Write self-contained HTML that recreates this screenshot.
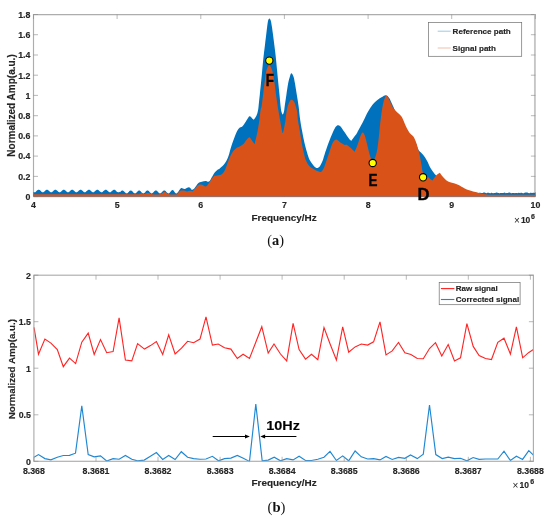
<!DOCTYPE html><html><head><meta charset="utf-8"><title>Figure</title><style>html,body{margin:0;padding:0;background:#fff}svg{display:block}text{font-family:"Liberation Sans",sans-serif;font-weight:bold;fill:#262626;stroke:#262626;stroke-width:0.15}.s{font-family:"Liberation Serif",serif;font-weight:normal;fill:#111;stroke:none}.k{fill:#000;stroke:#000;stroke-width:0.35}.k2{fill:#000}</style></head><body>
<svg width="550" height="519" viewBox="0 0 550 519">
<rect width="550" height="519" fill="#fff"/>
<path d="M33.5,196.6V14.6H535.4" fill="none" stroke="#adadad" stroke-width="1.15"/><path d="M33.5,196.6H535.4" fill="none" stroke="#adadad" stroke-width="1.15"/><path d="M534.9,14.0V196.6" fill="none" stroke="#c6c6c6" stroke-width="1.9"/>
<path d="M33.5,196.6v-4.5M33.5,14.5v4.5M117.1,196.6v-4.5M117.1,14.5v4.5M200.8,196.6v-4.5M200.8,14.5v4.5M284.4,196.6v-4.5M284.4,14.5v4.5M368.1,196.6v-4.5M368.1,14.5v4.5M451.7,196.6v-4.5M451.7,14.5v4.5M535.4,196.6v-4.5M535.4,14.5v4.5M33.5,196.6h4.5M535.4,196.6h-4.5M33.5,176.4h4.5M535.4,176.4h-4.5M33.5,156.1h4.5M535.4,156.1h-4.5M33.5,135.9h4.5M535.4,135.9h-4.5M33.5,115.7h4.5M535.4,115.7h-4.5M33.5,95.4h4.5M535.4,95.4h-4.5M33.5,75.2h4.5M535.4,75.2h-4.5M33.5,55.0h4.5M535.4,55.0h-4.5M33.5,34.7h4.5M535.4,34.7h-4.5M33.5,14.5h4.5M535.4,14.5h-4.5" stroke="#8a8a8a" stroke-width="0.6" fill="none"/>
<path d="M33.50,196.60C33.50,195.75 33.50,192.35 33.50,191.50C33.50,191.57 33.38,191.81 33.50,191.94C33.62,192.07 33.97,192.21 34.20,192.26C34.43,192.31 34.67,192.31 34.90,192.25C35.13,192.18 35.37,192.05 35.60,191.89C35.83,191.73 36.07,191.51 36.30,191.30C36.53,191.09 36.77,190.83 37.00,190.62C37.23,190.41 37.47,190.20 37.70,190.05C37.93,189.90 38.17,189.78 38.40,189.73C38.63,189.68 38.87,189.69 39.10,189.76C39.33,189.82 39.57,189.96 39.80,190.12C40.03,190.28 40.27,190.50 40.50,190.72C40.73,190.93 40.97,191.18 41.20,191.39C41.43,191.60 41.67,191.81 41.90,191.96C42.13,192.11 42.37,192.22 42.60,192.27C42.83,192.32 43.07,192.30 43.30,192.24C43.53,192.17 43.77,192.03 44.00,191.87C44.23,191.71 44.47,191.48 44.70,191.27C44.93,191.06 45.17,190.80 45.40,190.59C45.63,190.39 45.87,190.17 46.10,190.03C46.33,189.89 46.57,189.77 46.80,189.73C47.03,189.68 47.27,189.70 47.50,189.77C47.73,189.84 47.97,189.98 48.20,190.14C48.43,190.30 48.67,190.53 48.90,190.75C49.13,190.96 49.37,191.21 49.60,191.42C49.83,191.63 50.07,191.84 50.30,191.98C50.53,192.12 50.77,192.23 51.00,192.28C51.23,192.32 51.47,192.30 51.70,192.23C51.93,192.16 52.17,192.01 52.40,191.85C52.63,191.68 52.87,191.45 53.10,191.24C53.33,191.03 53.57,190.77 53.80,190.57C54.03,190.36 54.27,190.15 54.50,190.01C54.73,189.87 54.97,189.76 55.20,189.72C55.43,189.68 55.67,189.70 55.90,189.78C56.13,189.85 56.37,190.00 56.60,190.16C56.83,190.33 57.07,190.56 57.30,190.77C57.53,190.99 57.77,191.24 58.00,191.45C58.23,191.65 58.47,191.86 58.70,192.00C58.93,192.14 59.17,192.24 59.40,192.28C59.63,192.32 59.87,192.29 60.10,192.22C60.33,192.14 60.57,191.99 60.80,191.83C61.03,191.66 61.27,191.43 61.50,191.21C61.73,191.00 61.97,190.74 62.20,190.54C62.43,190.34 62.67,190.13 62.90,189.99C63.13,189.85 63.37,189.75 63.60,189.72C63.83,189.68 64.07,189.71 64.30,189.79C64.53,189.87 64.77,190.02 65.00,190.19C65.23,190.35 65.47,190.59 65.70,190.80C65.93,191.02 66.17,191.27 66.40,191.47C66.63,191.68 66.87,191.88 67.10,192.02C67.33,192.15 67.57,192.25 67.80,192.29C68.03,192.32 68.27,192.29 68.50,192.21C68.73,192.13 68.97,191.97 69.20,191.80C69.43,191.63 69.67,191.40 69.90,191.18C70.13,190.97 70.37,190.71 70.60,190.51C70.83,190.31 71.07,190.11 71.30,189.97C71.53,189.84 71.77,189.74 72.00,189.71C72.23,189.68 72.47,189.72 72.70,189.80C72.93,189.88 73.17,190.04 73.40,190.21C73.63,190.38 73.87,190.62 74.10,190.83C74.33,191.05 74.57,191.30 74.80,191.50C75.03,191.70 75.27,191.90 75.50,192.04C75.73,192.17 75.97,192.26 76.20,192.29C76.43,192.32 76.67,192.28 76.90,192.20C77.13,192.11 77.37,191.95 77.60,191.78C77.83,191.61 78.07,191.37 78.30,191.15C78.53,190.94 78.77,190.68 79.00,190.49C79.23,190.29 79.47,190.09 79.70,189.96C79.93,189.83 80.17,189.73 80.40,189.71C80.63,189.68 80.87,189.72 81.10,189.81C81.33,189.90 81.57,190.06 81.80,190.23C82.03,190.41 82.27,190.65 82.50,190.86C82.73,191.08 82.97,191.33 83.20,191.53C83.43,191.73 83.67,191.93 83.90,192.05C84.13,192.18 84.37,192.27 84.60,192.29C84.83,192.32 85.07,192.27 85.30,192.18C85.53,192.10 85.77,191.93 86.00,191.76C86.23,191.58 86.47,191.34 86.70,191.12C86.93,190.91 87.17,190.66 87.40,190.46C87.63,190.26 87.87,190.06 88.10,189.94C88.33,189.81 88.57,189.72 88.80,189.71C89.03,189.69 89.27,189.73 89.50,189.82C89.73,189.91 89.97,190.08 90.20,190.26C90.43,190.43 90.67,190.67 90.90,190.89C91.13,191.11 91.37,191.36 91.60,191.55C91.83,191.75 92.07,191.95 92.30,192.07C92.53,192.19 92.77,192.28 93.00,192.30C93.23,192.31 93.47,192.27 93.70,192.17C93.93,192.08 94.17,191.91 94.40,191.73C94.63,191.55 94.87,191.31 95.10,191.10C95.33,190.88 95.57,190.63 95.80,190.43C96.03,190.24 96.27,190.04 96.50,189.92C96.73,189.80 96.97,189.72 97.20,189.70C97.43,189.69 97.67,189.74 97.90,189.83C98.13,189.93 98.37,190.10 98.60,190.28C98.83,190.46 99.07,190.70 99.30,190.92C99.53,191.14 99.77,191.39 100.00,191.58C100.23,191.78 100.47,191.97 100.70,192.09C100.93,192.21 101.17,192.29 101.40,192.30C101.63,192.31 101.87,192.26 102.10,192.16C102.33,192.06 102.57,191.89 102.80,191.71C103.03,191.53 103.27,191.28 103.50,191.07C103.73,190.85 103.97,190.60 104.20,190.41C104.43,190.21 104.67,190.02 104.90,189.91C105.13,189.79 105.37,189.71 105.60,189.70C105.83,189.69 106.07,189.75 106.30,189.85C106.53,189.95 106.77,190.12 107.00,190.30C107.23,190.49 107.47,190.73 107.70,190.95C107.93,191.17 108.17,191.42 108.40,191.61C108.63,191.80 108.87,191.99 109.10,192.10C109.33,192.22 109.57,192.29 109.80,192.30C110.03,192.31 110.27,192.25 110.50,192.15C110.73,192.04 110.97,191.87 111.20,191.68C111.43,191.50 111.67,191.25 111.90,191.04C112.13,190.82 112.37,190.57 112.60,190.38C112.83,190.19 113.07,190.00 113.30,189.89C113.53,189.78 113.77,189.71 114.00,189.70C114.23,189.70 114.47,189.76 114.70,189.86C114.93,189.97 115.17,190.14 115.40,190.33C115.63,190.52 115.87,190.76 116.10,190.98C116.33,191.20 116.57,191.44 116.80,191.63C117.03,191.82 117.27,192.01 117.50,192.12C117.73,192.23 117.97,192.30 118.20,192.30C118.43,192.30 118.67,192.24 118.90,192.13C119.13,192.02 119.42,191.64 119.60,191.66C119.78,191.68 119.82,192.28 120.00,192.24C120.18,192.21 120.47,191.70 120.70,191.46C120.93,191.22 121.17,190.97 121.40,190.80C121.63,190.63 121.87,190.49 122.10,190.44C122.33,190.38 122.57,190.39 122.80,190.47C123.03,190.54 123.27,190.70 123.50,190.88C123.73,191.07 123.97,191.33 124.20,191.57C124.43,191.82 124.67,192.11 124.90,192.35C125.13,192.59 125.37,192.84 125.60,193.01C125.83,193.18 126.07,193.31 126.30,193.37C126.53,193.42 126.77,193.40 127.00,193.33C127.23,193.25 127.47,193.09 127.70,192.90C127.93,192.72 128.17,192.46 128.40,192.21C128.63,191.96 128.87,191.67 129.10,191.43C129.33,191.19 129.57,190.95 129.80,190.78C130.03,190.61 130.27,190.48 130.50,190.43C130.73,190.38 130.97,190.40 131.20,190.48C131.43,190.56 131.67,190.72 131.90,190.91C132.13,191.10 132.37,191.36 132.60,191.61C132.83,191.85 133.07,192.15 133.30,192.38C133.53,192.62 133.77,192.87 134.00,193.03C134.23,193.20 134.47,193.32 134.70,193.37C134.93,193.42 135.17,193.40 135.40,193.32C135.63,193.23 135.87,193.07 136.10,192.88C136.33,192.69 136.57,192.42 136.80,192.18C137.03,191.93 137.27,191.64 137.50,191.40C137.73,191.16 137.97,190.92 138.20,190.76C138.43,190.60 138.67,190.47 138.90,190.42C139.13,190.38 139.37,190.40 139.60,190.49C139.83,190.57 140.07,190.74 140.30,190.93C140.53,191.13 140.77,191.39 141.00,191.64C141.23,191.89 141.47,192.18 141.70,192.42C141.93,192.65 142.17,192.89 142.40,193.05C142.63,193.21 142.87,193.34 143.10,193.38C143.33,193.42 143.57,193.39 143.80,193.31C144.03,193.22 144.27,193.05 144.50,192.85C144.73,192.66 144.97,192.39 145.20,192.14C145.43,191.90 145.67,191.60 145.90,191.37C146.13,191.13 146.37,190.89 146.60,190.74C146.83,190.58 147.07,190.46 147.30,190.42C147.53,190.38 147.77,190.41 148.00,190.50C148.23,190.59 148.47,190.76 148.70,190.96C148.93,191.16 149.17,191.42 149.40,191.67C149.63,191.92 149.87,192.21 150.10,192.45C150.33,192.68 150.57,192.92 150.80,193.07C151.03,193.23 151.27,193.35 151.50,193.38C151.73,193.42 151.97,193.39 152.20,193.29C152.43,193.20 152.67,193.02 152.90,192.83C153.13,192.63 153.37,192.36 153.60,192.11C153.83,191.86 154.07,191.57 154.30,191.34C154.53,191.10 154.77,190.87 155.00,190.72C155.23,190.56 155.47,190.45 155.70,190.41C155.93,190.38 156.17,190.42 156.40,190.51C156.63,190.61 156.87,190.79 157.10,190.99C157.33,191.19 157.57,191.46 157.80,191.71C158.03,191.96 158.27,192.25 158.50,192.48C158.73,192.71 158.97,192.94 159.20,193.09C159.43,193.25 159.67,193.36 159.90,193.39C160.13,193.42 160.37,193.38 160.60,193.28C160.83,193.18 161.07,193.00 161.30,192.80C161.53,192.60 161.77,192.33 162.00,192.08C162.23,191.83 162.47,191.54 162.70,191.31C162.93,191.08 163.17,190.84 163.40,190.70C163.63,190.55 163.87,190.44 164.10,190.41C164.33,190.38 164.57,190.43 164.80,190.53C165.03,190.63 165.27,190.81 165.50,191.01C165.73,191.22 165.97,191.49 166.20,191.74C166.43,191.99 166.67,192.28 166.90,192.51C167.13,192.74 167.37,192.97 167.60,193.11C167.83,193.26 168.07,193.37 168.30,193.39C168.53,193.42 168.77,193.37 169.00,193.27C169.23,193.16 169.08,193.32 169.70,192.77C170.32,192.23 171.58,189.86 172.70,190.00C173.82,190.14 175.03,193.90 176.40,193.60C177.77,193.30 179.55,188.97 180.90,188.20C182.25,187.43 183.13,189.15 184.50,189.00C185.87,188.85 187.88,187.13 189.10,187.30C190.32,187.47 191.35,189.55 191.80,190.00C192.25,189.70 193.43,189.32 194.50,188.20C195.57,187.08 196.98,184.37 198.20,183.30C199.42,182.23 200.58,182.20 201.80,181.80C203.02,181.40 204.28,180.95 205.50,180.90C206.72,180.85 208.05,182.10 209.10,181.50C210.15,180.90 210.90,178.77 211.80,177.30C212.70,175.83 213.58,173.92 214.50,172.70C215.42,171.48 216.38,170.75 217.30,170.00C218.22,169.25 218.77,169.27 220.00,168.20C221.23,167.13 223.28,165.63 224.70,163.60C226.12,161.57 227.38,158.93 228.50,156.00C229.62,153.07 230.12,149.83 231.40,146.00C232.68,142.17 234.92,135.97 236.20,133.00C237.48,130.03 238.08,129.27 239.10,128.20C240.12,127.13 241.17,127.72 242.30,126.60C243.43,125.48 244.78,123.17 245.90,121.50C247.02,119.83 248.23,117.42 249.00,116.60C249.77,115.78 250.00,116.32 250.50,116.60C251.00,116.88 251.47,117.77 252.00,118.30C252.53,118.83 253.42,119.55 253.70,119.80C254.15,119.13 255.67,117.43 256.40,115.80C257.13,114.17 257.67,112.30 258.10,110.00C258.53,107.70 258.72,104.55 259.00,102.00C259.28,99.45 259.47,97.85 259.80,94.70C260.13,91.55 260.62,86.95 261.00,83.10C261.38,79.25 261.77,75.12 262.10,71.60C262.43,68.08 262.75,64.57 263.00,62.00C263.25,59.43 263.27,59.08 263.60,56.20C263.93,53.32 264.53,48.55 265.00,44.70C265.47,40.85 266.05,36.00 266.40,33.10C266.75,30.20 266.85,29.22 267.10,27.30C267.35,25.38 267.65,22.93 267.90,21.60C268.15,20.27 268.35,19.80 268.60,19.30C268.85,18.80 269.13,18.60 269.40,18.60C269.67,18.60 269.93,18.80 270.20,19.30C270.47,19.80 270.70,20.27 271.00,21.60C271.30,22.93 271.70,25.38 272.00,27.30C272.30,29.22 272.42,30.20 272.80,33.10C273.18,36.00 273.82,40.85 274.30,44.70C274.78,48.55 275.22,51.72 275.70,56.20C276.18,60.68 276.77,67.12 277.20,71.60C277.63,76.08 277.92,79.25 278.30,83.10C278.68,86.95 279.12,90.85 279.50,94.70C279.88,98.55 280.28,103.40 280.60,106.20C280.92,109.00 281.05,110.13 281.40,111.50C281.75,112.87 282.27,114.40 282.70,114.40C283.13,114.40 283.67,112.87 284.00,111.50C284.33,110.13 284.30,109.00 284.70,106.20C285.10,103.40 285.82,98.55 286.40,94.70C286.98,90.85 287.65,86.00 288.20,83.10C288.75,80.20 289.30,78.77 289.70,77.30C290.10,75.83 290.32,74.97 290.60,74.30C290.88,73.63 291.10,73.30 291.40,73.30C291.70,73.30 292.02,73.63 292.40,74.30C292.78,74.97 293.28,75.83 293.70,77.30C294.12,78.77 294.38,80.20 294.90,83.10C295.42,86.00 296.18,90.85 296.80,94.70C297.42,98.55 298.03,101.98 298.60,106.20C299.17,110.42 299.60,115.77 300.20,120.00C300.80,124.23 301.48,127.75 302.20,131.60C302.92,135.45 303.58,139.25 304.50,143.10C305.42,146.95 306.78,151.80 307.70,154.70C308.62,157.60 308.93,158.58 310.00,160.50C311.07,162.42 312.93,164.95 314.10,166.20C315.27,167.45 316.03,168.00 317.00,168.00C317.97,168.00 318.95,167.45 319.90,166.20C320.85,164.95 321.93,162.42 322.70,160.50C323.47,158.58 323.53,157.60 324.50,154.70C325.47,151.80 327.05,146.95 328.50,143.10C329.95,139.25 331.95,134.37 333.20,131.60C334.45,128.83 335.13,127.57 336.00,126.50C336.87,125.43 337.57,125.12 338.40,125.20C339.23,125.28 340.05,125.93 341.00,127.00C341.95,128.07 342.72,129.58 344.10,131.60C345.48,133.62 348.12,137.55 349.30,139.10C350.48,140.65 350.88,140.60 351.20,140.90C351.80,140.08 353.78,137.42 354.80,136.00C355.82,134.58 355.85,134.93 357.30,132.40C358.75,129.87 361.70,124.27 363.50,120.80C365.30,117.33 366.57,114.30 368.10,111.60C369.63,108.90 371.15,106.53 372.70,104.60C374.25,102.67 375.85,101.28 377.40,100.00C378.95,98.72 380.58,97.70 382.00,96.90C383.42,96.10 384.70,95.03 385.90,95.20C387.10,95.37 388.17,96.43 389.20,97.90C390.23,99.37 391.25,102.17 392.10,104.00C392.95,105.83 393.93,108.08 394.30,108.90C394.75,109.75 396.05,112.40 397.00,114.00C397.95,115.60 397.83,114.83 400.00,118.50C402.17,122.17 407.28,131.75 410.00,136.00C412.72,140.25 415.25,142.67 416.30,144.00C416.67,145.00 417.37,148.22 418.50,150.00C419.63,151.78 421.68,152.90 423.10,154.70C424.52,156.50 425.72,158.50 427.00,160.80C428.28,163.10 429.52,166.32 430.80,168.50C432.08,170.68 433.67,172.65 434.70,173.90C435.73,175.15 436.62,175.65 437.00,176.00C438.50,177.08 442.50,180.58 446.00,182.50C449.50,184.42 454.00,185.95 458.00,187.50C462.00,189.05 467.00,190.92 470.00,191.80C473.00,192.68 475.00,192.63 476.00,192.80C476.20,192.78 477.00,192.69 477.20,192.66C477.42,192.71 478.28,192.89 478.50,192.94C478.72,192.91 479.58,192.81 479.80,192.78C480.02,192.82 480.88,192.96 481.10,192.99C481.32,193.00 482.18,193.01 482.40,193.01C482.62,192.93 483.48,192.59 483.70,192.51C483.92,192.50 484.78,192.47 485.00,192.46C485.22,192.59 486.08,193.08 486.30,193.20C486.52,193.12 487.38,192.77 487.60,192.68C487.82,192.68 488.68,192.66 488.90,192.66C489.12,192.78 489.98,193.23 490.20,193.35C490.42,193.27 491.28,192.95 491.50,192.87C491.72,192.93 492.58,193.15 492.80,193.20C493.02,193.15 493.88,192.93 494.10,192.88C494.32,192.90 495.18,193.00 495.40,193.03C495.62,192.95 496.48,192.66 496.70,192.59C496.92,192.66 497.78,192.95 498.00,193.02C498.22,193.06 499.08,193.20 499.30,193.23C499.52,193.18 500.38,192.97 500.60,192.92C500.82,192.95 501.68,193.08 501.90,193.12C502.12,193.11 502.98,193.06 503.20,193.05C503.42,192.96 504.28,192.60 504.50,192.51C504.72,192.61 505.58,193.03 505.80,193.13C506.02,193.11 506.88,193.01 507.10,192.98C507.32,192.94 508.18,192.76 508.40,192.72C508.62,192.68 509.48,192.52 509.70,192.48C509.92,192.60 510.78,193.10 511.00,193.23C511.22,193.17 512.08,192.93 512.30,192.88C512.52,192.91 513.38,193.06 513.60,193.10C513.82,193.12 514.68,193.22 514.90,193.24C515.12,193.22 515.98,193.12 516.20,193.09C516.42,193.12 517.28,193.25 517.50,193.28C517.72,193.20 518.58,192.88 518.80,192.81C519.02,192.87 519.88,193.11 520.10,193.17C520.32,193.12 521.18,192.90 521.40,192.85C521.62,192.92 522.48,193.22 522.70,193.29C522.92,193.28 523.78,193.25 524.00,193.24C524.22,193.12 525.08,192.65 525.30,192.54C525.52,192.54 526.38,192.57 526.60,192.57C526.82,192.58 527.68,192.63 527.90,192.65C528.12,192.76 528.98,193.21 529.20,193.32C529.42,193.24 530.28,192.92 530.50,192.84C530.72,192.87 531.58,192.99 531.80,193.01C532.02,192.97 532.88,192.77 533.10,192.72C533.32,192.75 534.18,192.88 534.40,192.91C534.57,192.89 535.23,192.82 535.40,192.80C535.40,193.43 535.40,195.97 535.40,196.60Z" fill="#0072BD"/>
<path d="M33.50,196.60C33.50,196.20 33.50,194.60 33.50,194.20C50.42,194.20 117.42,194.42 135.00,194.20C152.58,193.98 137.67,192.90 139.00,192.90C140.33,192.90 141.50,194.20 143.00,194.20C144.50,194.20 146.50,192.90 148.00,192.90C149.50,192.90 150.00,193.97 152.00,194.20C154.00,194.43 157.92,194.67 160.00,194.30C162.08,193.93 163.17,192.05 164.50,192.00C165.83,191.95 166.63,193.58 168.00,194.00C169.37,194.42 171.23,194.42 172.70,194.50C174.17,194.58 176.12,194.50 176.80,194.50C177.08,194.15 177.82,193.05 178.50,192.40C179.18,191.75 179.98,190.90 180.90,190.60C181.82,190.30 182.98,190.47 184.00,190.60C185.02,190.73 186.00,191.37 187.00,191.40C188.00,191.43 189.05,190.82 190.00,190.80C190.95,190.78 192.25,191.22 192.70,191.30C193.17,190.75 194.53,189.05 195.50,188.00C196.47,186.95 197.45,185.53 198.50,185.00C199.55,184.47 200.72,184.57 201.80,184.80C202.88,185.03 204.08,186.28 205.00,186.40C205.92,186.52 206.58,186.13 207.30,185.50C208.02,184.87 208.68,183.52 209.30,182.60C209.92,181.68 210.22,181.07 211.00,180.00C211.78,178.93 213.17,176.92 214.00,176.20C214.83,175.48 214.77,175.97 216.00,175.70C217.23,175.43 219.90,175.55 221.40,174.60C222.90,173.65 223.78,172.43 225.00,170.00C226.22,167.57 227.43,163.00 228.70,160.00C229.97,157.00 231.35,153.97 232.60,152.00C233.85,150.03 235.20,149.03 236.20,148.20C237.20,147.37 237.38,147.72 238.60,147.00C239.82,146.28 242.27,144.98 243.50,143.90C244.73,142.82 245.15,141.52 246.00,140.50C246.85,139.48 247.93,138.27 248.60,137.80C249.27,137.33 249.33,137.10 250.00,137.70C250.67,138.30 251.83,140.33 252.60,141.40C253.37,142.47 254.27,143.65 254.60,144.10C255.03,142.27 256.43,136.85 257.20,133.10C257.97,129.35 258.63,125.45 259.20,121.60C259.77,117.75 260.20,112.57 260.60,110.00C261.00,107.43 261.18,108.75 261.60,106.20C262.02,103.65 262.62,98.55 263.10,94.70C263.58,90.85 263.98,86.95 264.50,83.10C265.02,79.25 265.62,74.37 266.20,71.60C266.78,68.83 267.50,67.57 268.00,66.50C268.50,65.43 268.78,65.20 269.20,65.20C269.62,65.20 269.95,65.43 270.50,66.50C271.05,67.57 271.83,68.83 272.50,71.60C273.17,74.37 273.92,79.25 274.50,83.10C275.08,86.95 275.47,90.85 276.00,94.70C276.53,98.55 277.32,103.65 277.70,106.20C278.08,108.75 277.87,107.43 278.30,110.00C278.73,112.57 279.73,118.35 280.30,121.60C280.87,124.85 281.30,127.58 281.70,129.50C282.10,131.42 282.35,133.10 282.70,133.10C283.05,133.10 283.37,131.42 283.80,129.50C284.23,127.58 284.80,124.85 285.30,121.60C285.80,118.35 286.23,113.02 286.80,110.00C287.37,106.98 288.12,105.08 288.70,103.50C289.28,101.92 289.82,101.12 290.30,100.50C290.78,99.88 291.15,99.80 291.60,99.80C292.05,99.80 292.45,99.88 293.00,100.50C293.55,101.12 294.37,102.25 294.90,103.50C295.43,104.75 295.82,106.58 296.20,108.00C296.58,109.42 296.92,110.00 297.20,112.00C297.48,114.00 297.45,116.73 297.90,120.00C298.35,123.27 299.27,127.75 299.90,131.60C300.53,135.45 300.98,139.25 301.70,143.10C302.42,146.95 303.48,151.80 304.20,154.70C304.92,157.60 305.12,158.58 306.00,160.50C306.88,162.42 308.05,164.67 309.50,166.20C310.95,167.73 313.28,168.85 314.70,169.70C316.12,170.55 316.95,170.92 318.00,171.30C319.05,171.68 320.17,172.30 321.00,172.00C321.83,171.70 322.42,170.47 323.00,169.50C323.58,168.53 323.58,168.67 324.50,166.20C325.42,163.73 327.15,158.55 328.50,154.70C329.85,150.85 331.43,145.60 332.60,143.10C333.77,140.60 334.60,140.13 335.50,139.70C336.40,139.27 337.05,139.93 338.00,140.50C338.95,141.07 340.08,142.37 341.20,143.10C342.32,143.83 343.73,144.60 344.70,144.90C345.67,145.20 346.03,144.43 347.00,144.90C347.97,145.37 349.23,146.57 350.50,147.70C351.77,148.83 353.92,151.03 354.60,151.70C355.05,150.67 356.33,148.08 357.30,145.50C358.27,142.92 359.50,138.38 360.40,136.20C361.30,134.02 361.93,132.40 362.70,132.40C363.47,132.40 364.22,134.02 365.00,136.20C365.78,138.38 366.62,142.42 367.40,145.50C368.18,148.58 368.93,152.27 369.70,154.70C370.47,157.13 371.10,159.58 372.00,160.10C372.90,160.62 374.20,159.72 375.10,157.80C376.00,155.88 376.77,152.20 377.40,148.60C378.03,145.00 378.38,140.83 378.90,136.20C379.42,131.57 379.98,125.17 380.50,120.80C381.02,116.43 381.45,113.33 382.00,110.00C382.55,106.67 383.15,103.23 383.80,100.80C384.45,98.37 385.55,96.30 385.90,95.40C386.28,95.78 387.32,96.28 388.20,97.70C389.08,99.12 390.30,102.10 391.20,103.90C392.10,105.70 392.57,107.08 393.60,108.50C394.63,109.92 396.12,111.12 397.40,112.40C398.68,113.68 400.28,114.85 401.30,116.20C402.32,117.55 402.73,118.83 403.50,120.50C404.27,122.17 404.87,124.12 405.90,126.20C406.93,128.28 408.42,131.23 409.70,133.00C410.98,134.77 412.47,135.03 413.60,136.80C414.73,138.57 415.55,140.82 416.50,143.60C417.45,146.38 418.47,149.93 419.30,153.50C420.13,157.07 420.87,161.72 421.50,165.00C422.13,168.28 422.18,171.33 423.10,173.20C424.02,175.07 425.45,174.97 427.00,176.20C428.55,177.43 431.50,179.87 432.40,180.60C433.03,179.75 434.97,176.82 436.20,175.50C437.43,174.18 439.20,173.17 439.80,172.70C440.23,173.28 441.33,174.95 442.40,176.20C443.47,177.45 444.92,179.18 446.20,180.20C447.48,181.22 448.80,181.78 450.10,182.30C451.40,182.82 452.58,182.83 454.00,183.30C455.42,183.77 456.82,184.23 458.60,185.10C460.38,185.97 462.65,187.55 464.70,188.50C466.75,189.45 468.32,190.00 470.90,190.80C473.48,191.60 477.57,192.70 480.20,193.30C482.83,193.90 484.23,194.15 486.70,194.40C489.17,194.65 486.88,194.73 495.00,194.80C503.12,194.87 528.67,194.80 535.40,194.80C535.40,195.10 535.40,196.30 535.40,196.60Z" fill="#D95319"/>
<text x="33.5" y="208.3" font-size="8.8" text-anchor="middle">4</text>
<text x="117.1" y="208.3" font-size="8.8" text-anchor="middle">5</text>
<text x="200.8" y="208.3" font-size="8.8" text-anchor="middle">6</text>
<text x="284.4" y="208.3" font-size="8.8" text-anchor="middle">7</text>
<text x="368.1" y="208.3" font-size="8.8" text-anchor="middle">8</text>
<text x="451.7" y="208.3" font-size="8.8" text-anchor="middle">9</text>
<text x="535.4" y="208.3" font-size="8.8" text-anchor="middle">10</text>
<text x="30.4" y="199.9" font-size="8.8" text-anchor="end">0</text>
<text x="30.4" y="179.7" font-size="8.8" text-anchor="end">0.2</text>
<text x="30.4" y="159.4" font-size="8.8" text-anchor="end">0.4</text>
<text x="30.4" y="139.2" font-size="8.8" text-anchor="end">0.6</text>
<text x="30.4" y="119.0" font-size="8.8" text-anchor="end">0.8</text>
<text x="30.4" y="98.7" font-size="8.8" text-anchor="end">1</text>
<text x="30.4" y="78.5" font-size="8.8" text-anchor="end">1.2</text>
<text x="30.4" y="58.3" font-size="8.8" text-anchor="end">1.4</text>
<text x="30.4" y="38.0" font-size="8.8" text-anchor="end">1.6</text>
<text x="30.4" y="17.8" font-size="8.8" text-anchor="end">1.8</text>
<text transform="translate(14.6,105.5) rotate(-90)" font-size="10" text-anchor="middle">Normalized Amp(a.u.)</text>
<text x="284.1" y="221.2" font-size="9.95" text-anchor="middle">Frequency/Hz</text>
<text x="513.9" y="224.4" font-size="10" style="font-weight:normal;stroke:none">×</text><text x="520.9" y="223.2" font-size="8.5">10</text><text x="531.0" y="219.1" font-size="7">6</text>
<rect x="428.5" y="22.5" width="93.2" height="33.8" fill="#fff" stroke="#6e6e6e" stroke-width="0.7"/>
<path d="M437.7,31.2h13" stroke="#6fb1de" stroke-width="0.7"/><path d="M437.7,48h13" stroke="#eba588" stroke-width="0.7"/>
<text x="452.6" y="34.1" font-size="8.05">Reference path</text><text x="452.6" y="50.9" font-size="8.05">Signal path</text>
<circle cx="269.3" cy="60.6" r="3.65" fill="#ffff00" stroke="#000" stroke-width="1.1"/>
<circle cx="372.7" cy="163.0" r="3.65" fill="#ffff00" stroke="#000" stroke-width="1.1"/>
<circle cx="423.1" cy="177.3" r="3.65" fill="#ffff00" stroke="#000" stroke-width="1.1"/>
<text class="k" transform="translate(269.9,85.7) scale(0.8,1)" font-size="16.8" text-anchor="middle">F</text>
<text class="k" transform="translate(372.9,186.0) scale(0.8,1)" font-size="16.8" text-anchor="middle">E</text>
<text class="k" transform="translate(423.4,199.9) scale(1.0,1)" font-size="16.6" text-anchor="middle">D</text>
<text class="s" x="275.6" y="244.5" font-size="14.4" text-anchor="middle">(<tspan font-weight="bold">a</tspan>)</text>
<polyline points="34.0,327.3 38.5,354.2 44.9,339.1 50.9,343.1 57.3,349.5 63.3,366.7 69.5,358.2 75.6,363.6 81.8,342.2 88.2,333.1 94.2,354.5 100.5,339.6 106.7,352.7 113.1,351.5 119.1,317.8 125.4,360.0 131.8,360.9 137.6,343.6 144.5,349.1 150.5,345.6 156.4,341.5 162.7,354.5 168.7,334.9 175.1,354.0 181.5,348.2 187.6,341.3 193.6,342.7 200.0,339.1 206.0,316.9 212.4,345.1 218.2,344.0 224.5,347.8 230.9,349.1 237.3,358.5 243.1,354.2 249.5,358.5 255.5,343.0 261.8,326.7 268.2,353.1 274.0,344.0 280.5,354.0 286.7,360.9 293.1,323.3 299.1,349.5 305.5,359.1 311.5,354.2 317.8,359.6 324.0,327.6 330.0,343.8 336.4,360.0 342.7,326.9 348.7,352.2 355.1,346.9 361.3,344.0 367.6,345.1 373.6,341.8 380.0,321.8 386.0,354.9 392.2,350.9 398.5,342.4 404.9,352.7 410.9,354.5 417.3,358.5 423.3,358.7 429.5,348.5 435.5,342.7 441.8,356.0 448.2,344.5 454.5,360.9 460.5,357.8 466.9,323.6 473.2,346.4 479.1,355.5 485.5,358.5 491.5,359.5 497.8,342.4 504.0,338.2 510.4,354.0 516.4,326.9 522.7,357.8 528.5,352.7 533.4,349.5" fill="none" stroke="#ff2424" stroke-width="1.12" stroke-linejoin="miter"/>
<polyline points="34.0,457.2 38.5,454.6 44.9,458.6 50.9,459.9 57.3,457.2 63.3,455.5 69.5,455.4 75.5,453.2 81.8,405.9 88.2,454.5 94.2,456.8 100.5,455.9 106.7,461.0 113.1,458.6 119.1,459.2 125.4,455.4 131.8,459.2 137.6,460.8 144.2,460.1 150.4,456.3 156.4,452.6 162.7,459.5 168.7,455.5 175.1,459.5 181.3,451.7 187.6,457.2 193.6,458.6 200.0,459.2 206.0,459.0 212.4,456.3 218.5,460.8 224.5,458.6 230.9,458.1 237.3,455.5 243.3,458.3 249.5,461.4 255.8,404.1 262.2,460.8 268.2,460.1 274.2,457.2 280.5,460.8 286.7,458.6 293.1,459.9 299.1,456.3 305.5,460.5 311.5,460.5 317.8,459.2 324.0,457.2 330.0,451.4 336.4,460.5 342.7,455.9 348.7,460.8 355.1,451.0 361.3,456.8 367.6,459.0 373.6,458.6 380.0,459.9 386.0,456.5 392.2,459.5 398.5,457.4 404.9,458.3 410.5,455.0 417.3,458.6 423.3,454.1 429.5,405.0 435.8,454.6 442.2,458.6 448.2,457.2 454.5,458.6 460.5,458.3 466.9,460.8 473.1,457.5 479.1,459.4 485.5,459.0 491.5,459.0 497.8,459.0 504.0,451.2 510.4,460.5 516.4,456.2 522.6,459.4 528.8,450.7 533.4,455.1" fill="none" stroke="#2088d2" stroke-width="1.15" stroke-linejoin="miter"/>
<rect x="33.9" y="275.2" width="499.5" height="186.10000000000002" fill="none" stroke="#adadad" stroke-width="1.15"/>
<path d="M33.9,461.3v-4.5M33.9,275.2v4.5M96.0,461.3v-4.5M96.0,275.2v4.5M158.0,461.3v-4.5M158.0,275.2v4.5M220.1,461.3v-4.5M220.1,275.2v4.5M282.1,461.3v-4.5M282.1,275.2v4.5M344.2,461.3v-4.5M344.2,275.2v4.5M406.3,461.3v-4.5M406.3,275.2v4.5M468.3,461.3v-4.5M468.3,275.2v4.5M530.4,461.3v-4.5M530.4,275.2v4.5M33.9,461.3h4.5M533.4,461.3h-4.5M33.9,414.8h4.5M533.4,414.8h-4.5M33.9,368.2h4.5M533.4,368.2h-4.5M33.9,321.7h4.5M533.4,321.7h-4.5M33.9,275.2h4.5M533.4,275.2h-4.5" stroke="#8a8a8a" stroke-width="0.6" fill="none"/>
<text x="33.9" y="473.8" font-size="8.8" text-anchor="middle">8.368</text>
<text x="96.0" y="473.8" font-size="8.8" text-anchor="middle">8.3681</text>
<text x="158.0" y="473.8" font-size="8.8" text-anchor="middle">8.3682</text>
<text x="220.1" y="473.8" font-size="8.8" text-anchor="middle">8.3683</text>
<text x="282.1" y="473.8" font-size="8.8" text-anchor="middle">8.3684</text>
<text x="344.2" y="473.8" font-size="8.8" text-anchor="middle">8.3685</text>
<text x="406.3" y="473.8" font-size="8.8" text-anchor="middle">8.3686</text>
<text x="468.3" y="473.8" font-size="8.8" text-anchor="middle">8.3687</text>
<text x="530.4" y="473.8" font-size="8.8" text-anchor="middle">8.3688</text>
<text x="30.9" y="464.9" font-size="8.8" text-anchor="end">0</text>
<text x="30.9" y="418.4" font-size="8.8" text-anchor="end">0.5</text>
<text x="30.9" y="371.9" font-size="8.8" text-anchor="end">1</text>
<text x="30.9" y="325.3" font-size="8.8" text-anchor="end">1.5</text>
<text x="30.9" y="278.8" font-size="8.8" text-anchor="end">2</text>
<text transform="translate(15.4,369.1) rotate(-90)" font-size="9.8" text-anchor="middle">Normalized Amp(a.u.)</text>
<text x="284.1" y="486" font-size="9.95" text-anchor="middle">Frequency/Hz</text>
<text x="512.6" y="489.1" font-size="10" style="font-weight:normal;stroke:none">×</text><text x="519.6" y="487.8" font-size="8.5">10</text><text x="530.2" y="483.6" font-size="7">6</text>
<rect x="439.2" y="282.5" width="80.9" height="22.2" fill="#fff" stroke="#6e6e6e" stroke-width="0.7"/>
<path d="M440.9,288.6h13.5" stroke="#ff2020" stroke-width="1.1"/><path d="M440.9,299.5h13.5" stroke="#2088d2" stroke-width="1.1"/>
<text x="455.7" y="291.4" font-size="8.05">Raw signal</text><text x="455.7" y="302.3" font-size="8.05">Corrected signal</text>
<path d="M212.7,436.5H246" stroke="#000" stroke-width="1.1" fill="none"/><path d="M249.8,436.5l-4.8,-2.1v4.2z" fill="#000"/>
<path d="M296.4,436.5H264" stroke="#000" stroke-width="1.1" fill="none"/><path d="M260.3,436.5l4.8,-2.1v4.2z" fill="#000"/>
<text class="k2" transform="translate(266.2,429.9) scale(1.08,1)" font-size="13.4">10Hz</text>
<text class="s" x="276.5" y="511.9" font-size="14.6" text-anchor="middle">(<tspan font-weight="bold">b</tspan>)</text>
</svg></body></html>
